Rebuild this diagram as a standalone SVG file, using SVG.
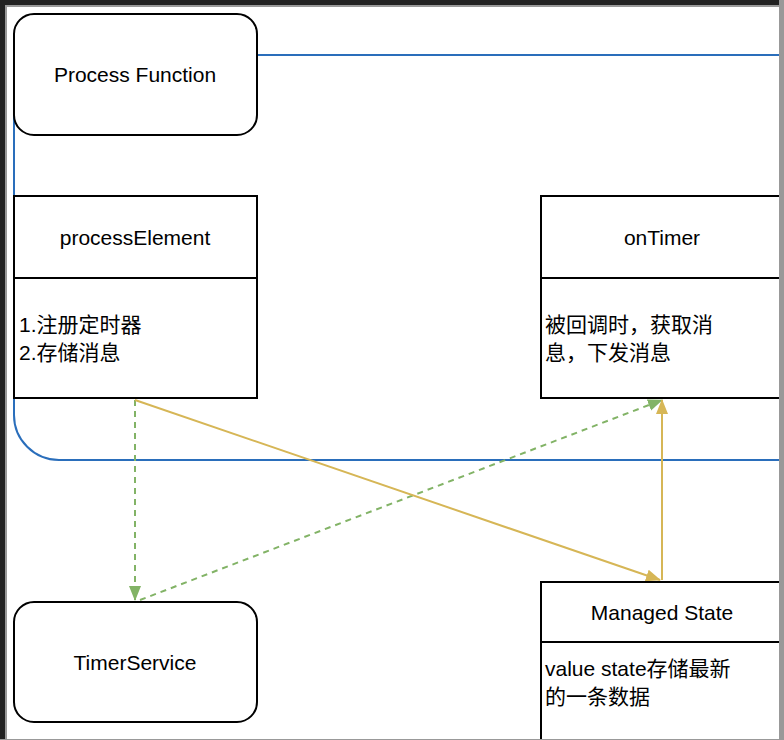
<svg xmlns="http://www.w3.org/2000/svg" width="784" height="740" viewBox="0 0 784 740">
<style>
text{font-family:"Liberation Sans","Noto Sans CJK SC",sans-serif;font-size:21px;fill:#000}
.b{fill:#fff;stroke:#000;stroke-width:2}
.g{stroke:#82b366;stroke-width:2;stroke-dasharray:6 5;fill:none}
.y{stroke:#d6b656;stroke-width:2;fill:none}
</style>
<defs>
<marker id="mg" markerWidth="10" markerHeight="10" refX="9" refY="5" orient="auto" markerUnits="userSpaceOnUse"><path d="M0,0 L10,5 L0,10 Z" fill="#82b366" transform="scale(1.5) translate(-3,-1.7)"/></marker>
<marker id="my" markerWidth="16" markerHeight="16" refX="14" refY="8" orient="auto" markerUnits="userSpaceOnUse"><path d="M0,2 L15,8 L0,14 Z" fill="#d6b656"/></marker>
<marker id="mg2" markerWidth="16" markerHeight="16" refX="14" refY="8" orient="auto" markerUnits="userSpaceOnUse"><path d="M0,2 L15,8 L0,14 Z" fill="#82b366"/></marker>
</defs>
<rect width="784" height="740" fill="#222"/>
<rect x="5" y="5" width="776" height="736" fill="#999"/>
<rect x="7" y="7" width="772" height="733" fill="#fff"/>
<rect id="container" x="14" y="55" width="812" height="405" rx="45" fill="none" stroke="#2a6ebb" stroke-width="2"/>
<rect x="779" y="0" width="5" height="740" fill="#999"/>
<g id="connectors">
<line class="g" x1="135" y1="400" x2="135" y2="600" marker-end="url(#mg2)"/>
<line class="g" x1="140" y1="600" x2="662" y2="400" marker-end="url(#mg2)"/>
<line class="y" x1="135" y1="400" x2="660" y2="580" marker-end="url(#my)"/>
<line class="y" x1="662" y1="580" x2="662" y2="400" marker-end="url(#my)"/>
</g>
<g id="pf"><rect class="b" x="14" y="14" width="243" height="121" rx="20"/><text x="135" y="82" text-anchor="middle">Process Function</text></g>
<g id="pe"><rect class="b" x="14" y="196" width="243" height="202"/><line x1="14" y1="278" x2="257" y2="278" stroke="#000" stroke-width="2"/><text x="135" y="245" text-anchor="middle">processElement</text><text x="19" y="332">1.注册定时器</text><text x="19" y="360">2.存储消息</text></g>
<g id="ot"><rect class="b" x="541" y="196" width="243" height="202"/><line x1="541" y1="278" x2="784" y2="278" stroke="#000" stroke-width="2"/><text x="662" y="245" text-anchor="middle">onTimer</text><text x="545" y="332">被回调时，获取消</text><text x="545" y="360">息，下发消息</text></g>
<g id="ts"><rect class="b" x="14" y="602" width="243" height="120" rx="20"/><text x="135" y="670" text-anchor="middle">TimerService</text></g>
<g id="ms"><rect class="b" x="541" y="582" width="243" height="170"/><line x1="541" y1="642" x2="784" y2="642" stroke="#000" stroke-width="2"/><text x="662" y="620" text-anchor="middle">Managed State</text><text x="545" y="676">value state存储最新</text><text x="545" y="704">的一条数据</text></g>
<rect x="779" y="0" width="5" height="740" fill="#999"/>
<rect x="0" y="739" width="784" height="1" fill="#999"/>
</svg>
